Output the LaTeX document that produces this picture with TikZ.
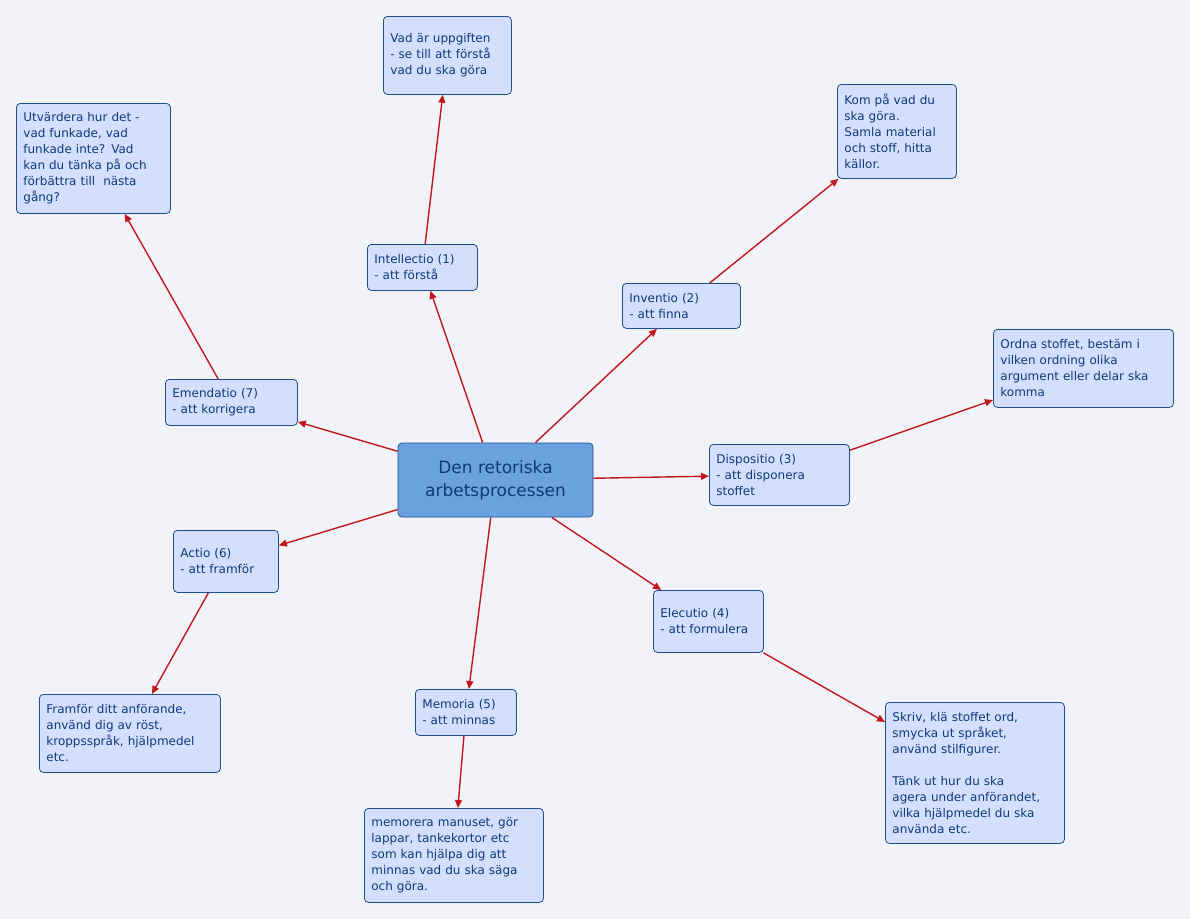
\documentclass[tikz,border=0pt]{standalone}
\usepackage{fontspec}
\setmainfont{DejaVu Sans}
\usetikzlibrary{arrows.meta}
\definecolor{bg}{HTML}{F2F3F9}
\definecolor{boxfill}{HTML}{D3DFFD}
\definecolor{boxline}{HTML}{1F4E8C}
\definecolor{txt}{HTML}{0D3A7A}
\definecolor{mainfill}{HTML}{6AA2E0}
\definecolor{arr}{HTML}{C0181C}
\begin{document}
\begin{tikzpicture}[x=1pt,y=-1pt,
  bx/.style={draw=boxline,fill=boxfill,rounded corners=4pt,line width=0.8pt,text=txt,
    font=\fontsize{12}{16}\selectfont,align=left,anchor=north west,inner xsep=7pt,inner ysep=5pt},
  ar/.style={draw=arr,line width=1.4pt,-{Triangle[length=8pt,width=7pt]}}]
\fill[bg] (0,0) rectangle (1190,919);
\useasboundingbox (0,0) rectangle (1190,919);
\newcommand{\bnode}[6]{\node[bx,minimum width={#4-#2},minimum height={#5-#3},text width={#4-#2-14}] (#1) at (#2,#3) {#6};}
\node[draw=boxline,fill=mainfill,rounded corners=4pt,line width=0.8pt,text=txt,align=center,
  font=\fontsize{17}{23}\selectfont,minimum width=195,minimum height=74] (c) at (495.5,480) {Den retoriska\\arbetsprocessen};
\bnode{intel}{367}{244}{477}{290}{Intellectio (1)\\- att förstå}
\bnode{uppg}{383}{16}{511}{94}{Vad är uppgiften\\- se till att förstå\\vad du ska göra}
\bnode{inv}{622}{283}{740}{328}{Inventio (2)\\- att finna}
\bnode{kom}{837}{84}{956}{178}{Kom på vad du\\ska göra.\\Samla material\\och stoff, hitta\\källor.}
\bnode{disp}{709}{444}{849}{505}{Dispositio (3)\\- att disponera\\stoffet}
\bnode{ordna}{993}{329}{1173}{407}{Ordna stoffet, bestäm i\\vilken ordning olika\\argument eller delar ska\\komma}
\bnode{elec}{653}{590}{763}{652}{Elecutio (4)\\- att formulera}
\bnode{skriv}{885}{702}{1064}{843}{Skriv, klä stoffet ord,\\smycka ut språket,\\använd stilfigurer.\\[16pt]Tänk ut hur du ska\\agera under anförandet,\\vilka hjälpmedel du ska\\använda etc.}
\bnode{mem}{415}{689}{516}{735}{Memoria (5)\\- att minnas}
\bnode{memo}{364}{808}{543}{902}{memorera manuset, gör\\lappar, tankekortor etc\\som kan hjälpa dig att\\minnas vad du ska säga\\och göra.}
\bnode{act}{173}{530}{278}{592}{Actio (6)\\- att framför}
\bnode{fram}{39}{694}{220}{772}{Framför ditt anförande,\\använd dig av röst,\\kroppsspråk, hjälpmedel\\etc.}
\bnode{emen}{165}{379}{297}{425}{Emendatio (7)\\- att korrigera}
\bnode{utv}{16}{103}{170}{213}{Utvärdera hur det -\\vad funkade, vad\\funkade inte? Vad\\kan du tänka på och\\förbättra till~ nästa\\gång?}
\draw[ar] (c) -- (intel);
\draw[ar] (intel) -- (uppg);
\draw[ar] (c) -- (inv);
\draw[ar] (inv) -- (kom);
\draw[ar] (c) -- (disp);
\draw[ar] (disp) -- (ordna);
\draw[ar] (c) -- (elec);
\draw[ar] (elec) -- (skriv);
\draw[ar] (c) -- (mem);
\draw[ar] (mem) -- (memo);
\draw[ar] (c) -- (act);
\draw[ar] (act) -- (fram);
\draw[ar] (c) -- (emen);
\draw[ar] (emen) -- (utv);
\end{tikzpicture}
\end{document}
